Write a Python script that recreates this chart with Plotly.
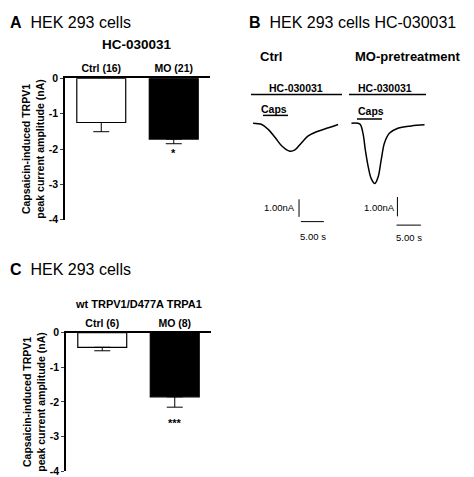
import plotly.graph_objects as go

W, H = 474, 477
def px(x): return x / W
def py(y): return 1 - y / H

# Panel A data
a_labels = ["Ctrl (16)", "MO (21)"]
a_means = [-1.25, -1.72]
a_sem = [0.26, 0.13]
# Panel C data
c_labels = ["Ctrl (6)", "MO (8)"]
c_means = [-0.42, -1.85]
c_sem = [0.10, 0.30]
yticks = [0, -1, -2, -3, -4]

# Panel B traces (time s, current nA)
ctrl_t = [0, 1.9, 3.3, 4.8, 6.2, 8.0, 9.1, 10.6, 12.0, 13.8, 16.4, 18.5]
ctrl_i = [0, -0.07, -0.35, -0.81, -1.28, -1.59, -1.52, -1.09, -0.72, -0.48, -0.26, -0.07]
mo_t = [0, 1.8, 2.5, 3.0, 3.6, 4.3, 5.1, 5.8, 6.5, 7.2, 8.3, 10.1, 13.0, 15.9]
mo_i = [0, -0.04, -0.56, -1.48, -2.41, -3.15, -3.43, -3.06, -2.04, -1.11, -0.56, -0.28, -0.15, -0.09]
ctrl_offset, mo_offset = 1.1, 22.5

fig = go.Figure()
bx = [1, 3]
fills = ["white", "black"]
for means, sems, xa, ya in [(a_means, a_sem, "x", "y"), (c_means, c_sem, "x2", "y2")]:
    fig.add_trace(go.Bar(x=bx, y=means, width=1.35, marker=dict(color=fills, line=dict(color="black", width=1.2)),
                         error_y=dict(type="data", symmetric=False, array=[0, 0], arrayminus=sems,
                                      color="black", thickness=1, width=8),
                         xaxis=xa, yaxis=ya, showlegend=False))
fig.add_trace(go.Scatter(x=[t + ctrl_offset for t in ctrl_t], y=ctrl_i, mode="lines", line=dict(color="black", width=1.5, shape="spline"),
                         xaxis="x3", yaxis="y3", showlegend=False))
fig.add_trace(go.Scatter(x=[t + mo_offset for t in mo_t], y=mo_i, mode="lines", line=dict(color="black", width=1.5, shape="spline"),
                         xaxis="x3", yaxis="y3", showlegend=False))

bold = dict(family="Arial, Liberation Sans", size=10.5, color="black")
ytitle = "<b>Capsaicin-induced TRPV1<br>peak current amplitude (nA)</b>"
def baraxes(ydom, labels):
    xa = dict(domain=[px(57), px(202)], range=[0, 4], side="top", showline=True, linecolor="black", linewidth=1.5,
              tickvals=bx, ticktext=["<b>%s</b>" % l for l in labels], ticks="", tickfont=bold, showgrid=False, zeroline=False)
    ya = dict(domain=ydom, range=[-4, 0], showline=True, linecolor="black", linewidth=1.5, ticks="outside", ticklen=3,
              tickvals=yticks, ticktext=["<b>%d</b>" % v for v in yticks], tickfont=bold, showgrid=False, zeroline=False,
              title=dict(text=ytitle, font=bold, standoff=2))
    return xa, ya
xa1, ya1 = baraxes([py(211), py(66)], a_labels)
xa2, ya2 = baraxes([py(469), py(327)], c_labels)
xa2["domain"] = [px(58), px(203)]
xa2["anchor"] = "y2"; ya2["anchor"] = "x2"
fig.update_layout(
    width=W, height=H, margin=dict(l=0, r=0, t=0, b=0), plot_bgcolor="white", paper_bgcolor="white",
    xaxis=xa1, yaxis=ya1, xaxis2=xa2, yaxis2=ya2,
    xaxis3=dict(domain=[px(240), 1], range=[0, 50.9], visible=False, anchor="y3"),
    yaxis3=dict(domain=[py(240), py(100)], range=[-7.1, 0.67], visible=False, anchor="x3"),
)
# Scale bars (data coords in trace axes)
for x0, x1, y0, y1 in [(11.1, 11.1, -4.33, -5.33), (11.5, 16.5, -5.6, -5.6), (32.5, 32.5, -4.2, -5.3), (32.3, 37.6, -5.8, -5.8)]:
    fig.add_shape(type="line", xref="x3", yref="y3", x0=x0, x1=x1, y0=y0, y1=y1, line=dict(color="black", width=1))
# Application bars
for x0, x1, y in [(243, 334, 82.7), (255, 280, 104), (341, 418, 82.7), (349, 374, 107.7)]:
    fig.add_shape(type="line", xref="paper", yref="paper", x0=px(x0), x1=px(x1), y0=py(y), y1=py(y), line=dict(color="black", width=1.5))

def ann(x, y, text, size=10, xanchor="center", family="Arial, Liberation Sans", xref="paper", yref="paper"):
    fig.add_annotation(x=x, y=y, xref=xref, yref=yref, text=text, showarrow=False, xanchor=xanchor, yanchor="middle",
                       font=dict(family=family, size=size, color="black"))
big = 16
ann(px(0), py(9), "<b>A</b>  HEK 293 cells", big, "left")
ann(px(239), py(9), "<b>B</b>  HEK 293 cells HC-030031", big, "left")
ann(px(0), py(262), "<b>C</b>  HEK 293 cells", big, "left")
ann(px(129), py(31), "<b>HC-030031</b>", 13.5)
ann(px(130), py(297), "<b>wt TRPV1/D477A TRPA1</b>", 11)
ann(px(250), py(44), "<b>Ctrl</b>", 13, "left")
ann(px(345), py(44), "<b>MO-pretreatment</b>", 13, "left")
ann(px(288), py(76), "<b>HC-030031</b>", 10.5)
ann(px(377), py(76), "<b>HC-030031</b>", 10.5)
ann(px(251), py(97), "<b>Caps</b>", 10.5, "left")
ann(px(348), py(99), "<b>Caps</b>", 10.5, "left")
ann(px(271), py(198), "1.00nA", 9.5)
ann(px(371), py(199), "1.00nA", 9.5)
ann(px(305), py(228), "5.00 s", 9.5)
ann(px(401), py(229), "5.00 s", 9.5)
ann(3, -2.1, "<b>*</b>", 11, xref="x", yref="y")
ann(3, -2.62, "<b>***</b>", 11, xref="x2", yref="y2")
fig.write_html("out.html")
